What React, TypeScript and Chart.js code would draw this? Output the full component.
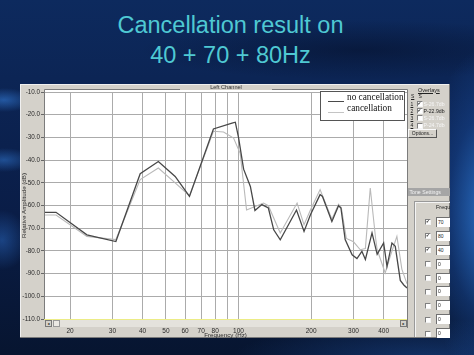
import React, { useEffect, useRef } from 'react';
import { Chart, registerables } from 'chart.js';

Chart.register(...registerables);

// ---------- data ----------
const titleLines = ['Cancellation result on', '40 + 70 + 80Hz'];
const seriesLabels = ['no cancellation', 'cancellation'];

const freqNoCancel = [15.6, 17.5, 23.5, 31.0, 39.1, 46.5, 54.6, 62.6, 78.7, 94, 97, 100, 105, 112, 117, 125, 133, 140, 149, 174, 187, 199, 218, 223, 244, 260, 266, 277, 296, 310, 325, 336, 358, 376, 400, 413, 433, 447, 469, 485, 500];
const ampNoCancel = [-63.0, -63.0, -72.9, -75.9, -46.0, -40.6, -47.2, -56.0, -26.3, -23.7, -23.3, -30.0, -44.0, -51.6, -62.2, -59.6, -61.1, -70.7, -75.1, -62.0, -71.4, -64.0, -55.2, -56.0, -67.0, -60.1, -61.1, -75.0, -81.7, -83.4, -80.2, -83.8, -72.1, -81.5, -76.5, -86.8, -76.5, -78.0, -93.0, -95.0, -96.3];

const freqCancel = [15.6, 17.5, 23.5, 31.0, 39.1, 46.5, 54.6, 62.6, 78.7, 86.7, 95.4, 101.6, 108, 127, 133, 149, 175, 187, 199, 218, 244, 260, 267, 280, 300, 320, 336, 352, 370, 376, 406, 426, 454, 476, 500];
const ampCancel = [-64.2, -64.2, -73.6, -75.0, -48.6, -43.5, -50.0, -55.7, -27.3, -27.6, -30.3, -37.0, -62.0, -58.9, -60.1, -72.1, -58.9, -68.5, -61.9, -53.0, -66.0, -59.5, -61.0, -74.5, -76.0, -79.5, -79.0, -52.3, -74.0, -79.5, -89.7, -82.4, -73.6, -88.0, -94.5];

const xTicks = [20, 30, 40, 50, 60, 70, 80, 90, 100, 200, 300, 400];
const xTickLabels = ['20', '30', '40', '50', '60', '70', '80', '', '100', '200', '300', '400'];
const xMin = 15.6;
const xMax = 500;
const yMin = -110;
const yMax = -10;
const yStep = 10;

const overlayRows = ['1', '2', '3', '4'];
const overlayTexts = ['S-26.7db', 'P-22.9db', 'S-26.7db', 'P-24.7db'];
const overlayChecked = [true, true, false, false];
const overlayEnabled = [false, true, false, false];
const toneFreqs = ['70', '80', '40', '0', '0', '0', '0', '0', '0'];
const toneChecked = [true, true, true, false, false, false, false, false, false];

const SANS = '"Liberation Sans", Arial, sans-serif';
const SERIF = '"Liberation Serif", "Times New Roman", serif';

const WX = 20;
const WY = 84;
const p = (x: number, y: number): React.CSSProperties => ({ position: 'absolute', left: x - WX, top: y - WY });

function Check({ x, y, on }: { x: number; y: number; on: boolean }) {
  return (
    <div style={{ ...p(x, y), width: 4, height: 4, background: '#fff', borderTop: '1px solid #808080', borderLeft: '1px solid #808080', borderRight: '1px solid #f4f4f4', borderBottom: '1px solid #f4f4f4', fontFamily: '"DejaVu Sans", sans-serif', fontSize: 4.5, lineHeight: '4px', color: '#111', textAlign: 'center', overflow: 'hidden' }}>
      {on ? '✔' : ''}
    </div>
  );
}

export default function App() {
  const canvasRef = useRef<HTMLCanvasElement>(null);

  useEffect(() => {
    const canvas = canvasRef.current!;
    const plotFrame = {
      id: 'plotFrame',
      beforeDraw(chart: any) {
        const { ctx, chartArea: a } = chart;
        ctx.save();
        ctx.fillStyle = '#ffffff';
        ctx.fillRect(a.left, a.top - 2, a.right - a.left, a.bottom - a.top + 2);
        ctx.restore();
      },
      afterDraw(chart: any) {
        const { ctx, chartArea: a } = chart;
        ctx.save();
        ctx.strokeStyle = '#7c7c7c';
        ctx.lineWidth = 1;
        ctx.beginPath();
        ctx.moveTo(Math.round(a.left) + 0.5, a.bottom);
        ctx.lineTo(Math.round(a.left) + 0.5, a.top - 2.5);
        ctx.lineTo(Math.round(a.right) + 0.5, a.top - 2.5);
        ctx.lineTo(Math.round(a.right) + 0.5, a.bottom + 9);
        ctx.stroke();
        ctx.restore();
      },
    };

    const chart = new Chart(canvas, {
      type: 'scatter',
      data: {
        datasets: [
          {
            label: seriesLabels[0],
            data: freqNoCancel.map((f, i) => ({ x: f, y: ampNoCancel[i] })),
            showLine: true,
            borderColor: '#474747',
            borderWidth: 1.3,
            pointRadius: 0,
            tension: 0,
          },
          {
            label: seriesLabels[1],
            data: freqCancel.map((f, i) => ({ x: f, y: ampCancel[i] })),
            showLine: true,
            borderColor: '#b9b9b9',
            borderWidth: 1.1,
            pointRadius: 0,
            tension: 0,
          },
        ],
      },
      options: {
        animation: false,
        responsive: false,
        layout: { padding: { top: 7, right: 1, left: 0, bottom: 0 } },
        plugins: { legend: { display: false }, tooltip: { enabled: false } },
        scales: {
          x: {
            type: 'logarithmic',
            min: xMin,
            max: xMax,
            afterBuildTicks: (s: any) => {
              s.ticks = xTicks.map((v) => ({ value: v }));
            },
            afterFit: (s: any) => {
              s.height = 19;
            },
            ticks: {
              autoSkip: false,
              maxRotation: 0,
              padding: 8,
              color: '#2a2a2a',
              font: { family: SANS, size: 6.5 },
              callback: (_v: any, i: number) => xTickLabels[i],
            },
            grid: { color: '#ababab', lineWidth: 1, drawTicks: false },
            border: { display: false },
            title: {
              display: true,
              text: 'Frequency (Hz)',
              color: '#2a2a2a',
              font: { family: SANS, size: 6.2 },
              padding: { top: 0, bottom: -1 },
            },
          },
          y: {
            type: 'linear',
            min: yMin,
            max: yMax,
            afterFit: (s: any) => {
              s.width = 24;
            },
            ticks: {
              stepSize: yStep,
              padding: 1,
              color: '#2a2a2a',
              font: { family: SANS, size: 6.3 },
              callback: (v: any) => Number(v).toFixed(1),
            },
            grid: {
              color: (ctx: any) => (ctx.tick && ctx.tick.value === yMin ? '#ecec86' : '#ababab'),
              tickColor: '#666666',
              tickLength: 3,
              lineWidth: 1,
            },
            border: { display: false },
            title: {
              display: true,
              text: 'Relative Amplitude (dB)',
              color: '#2a2a2a',
              font: { family: SANS, size: 6.2 },
              padding: { top: 1, bottom: 0 },
            },
          },
        },
      },
      plugins: [plotFrame],
    } as any);

    return () => chart.destroy();
  }, []);

  const bg = [
    'radial-gradient(ellipse 70px 170px at 490px 215px, rgba(45,120,210,0.95), rgba(30,90,180,0.35) 60%, transparent 100%)',
    'radial-gradient(ellipse 30px 12px at 4px 100px, rgba(45,110,195,0.7), transparent 100%)',
    'radial-gradient(ellipse 30px 12px at 4px 160px, rgba(45,110,195,0.6), transparent 100%)',
    'radial-gradient(ellipse 26px 30px at 2px 240px, rgba(40,100,185,0.55), transparent 100%)',
    'radial-gradient(ellipse 220px 30px at 360px 50px, rgba(5,15,40,0.55), transparent 100%)',
    'radial-gradient(ellipse 200px 40px at 430px 360px, rgba(30,80,160,0.5), transparent 100%)',
    'linear-gradient(180deg, #0d2a5e 0%, #0c2555 22%, #0a1d47 60%, #071530 100%)',
  ].join(', ');

  return (
    <div style={{ position: 'absolute', left: 0, top: 0, width: 474, height: 355, overflow: 'hidden', background: bg }}>
      {/* Title */}
      <div style={{ position: 'absolute', left: 0, top: 10, width: 461, textAlign: 'center', fontFamily: SANS, fontSize: 23.5, lineHeight: '30px', color: '#4fc9d3', whiteSpace: 'nowrap' }}>
        <div>{titleLines[0]}</div>
        <div>{titleLines[1]}</div>
      </div>

      {/* Window */}
      <div style={{ position: 'absolute', left: WX, top: WY, width: 430, height: 254, background: '#d4d1ca', overflow: 'hidden', boxShadow: 'inset -1px -1px 0 #7a7a7a, inset 1px 1px 0 #f0f0f0' }}>
        <canvas ref={canvasRef} width={388} height={253} style={{ ...p(20, 85), width: 388, height: 253, display: 'block' }} />

        <div style={{ ...p(180, 84.5), width: 92, height: 5, textAlign: 'center', fontFamily: SANS, fontSize: 5.6, lineHeight: '5px', color: '#333', background: '#d4d1ca' }}>Left Channel</div>

        {/* scroll strip */}
        <div style={{ ...p(44.5, 319.5), width: 362, height: 7, background: '#e4e2dc' }} />
        <div style={{ ...p(45, 320), width: 5, height: 5, background: '#d4d1ca', border: '1px solid #777', fontSize: 4, lineHeight: '5px', textAlign: 'center', color: '#111', fontFamily: '"DejaVu Sans", sans-serif' }}>◂</div>
        <div style={{ ...p(53, 320), width: 5, height: 5, background: '#ebe9e4', border: '1px solid #999' }} />
        <div style={{ ...p(400, 320), width: 5, height: 5, background: '#d4d1ca', border: '1px solid #777', fontSize: 4, lineHeight: '5px', textAlign: 'center', color: '#111', fontFamily: '"DejaVu Sans", sans-serif' }}>▸</div>

        {/* Legend */}
        <div style={{ ...p(320, 91), width: 85, height: 30, background: '#fff', border: '1px solid #555', boxSizing: 'border-box' }} />
        <div style={{ ...p(327.5, 100.5), width: 16, height: 1.5, background: '#4a4a4a' }} />
        <div style={{ ...p(327.5, 111.5), width: 16, height: 1, background: '#c4c4c4' }} />
        <div style={{ ...p(347, 91.5), fontFamily: SERIF, fontSize: 9.3, lineHeight: '10px', color: '#111', whiteSpace: 'nowrap' }}>{seriesLabels[0]}</div>
        <div style={{ ...p(347, 103), fontFamily: SERIF, fontSize: 9.3, lineHeight: '10px', color: '#111', whiteSpace: 'nowrap' }}>{seriesLabels[1]}</div>

        {/* Right panel: overlays */}
        <div style={{ ...p(418, 86.5), fontFamily: SANS, fontSize: 5.5, lineHeight: '6px', color: '#222', textDecoration: 'underline' }}>Overlays</div>
        <div style={{ ...p(411, 92.5), fontFamily: SANS, fontSize: 5, lineHeight: '6px', color: '#222', textDecoration: 'underline' }}>S</div>
        <div style={{ ...p(418.5, 92.5), fontFamily: SANS, fontSize: 5, lineHeight: '6px', color: '#222' }}>S</div>
        {overlayRows.map((r, i) => (
          <React.Fragment key={r}>
            <div style={{ ...p(410.5, 100.5 + i * 7.2), fontFamily: SANS, fontSize: 5, lineHeight: '6px', color: '#222', textDecoration: 'underline' }}>{r}</div>
            <Check x={416.5} y={101 + i * 7.2} on={overlayChecked[i]} />
            <div style={{ ...p(423.5, 100.5 + i * 7.2), fontFamily: SANS, fontSize: 5.2, lineHeight: '6px', color: overlayEnabled[i] ? '#222' : '#f6f6f6', whiteSpace: 'nowrap' }}>{overlayTexts[i]}</div>
          </React.Fragment>
        ))}
        <div style={{ ...p(408, 128.5), width: 27, height: 7, background: '#d4d1ca', borderTop: '1px solid #fafafa', borderLeft: '1px solid #fafafa', borderRight: '1px solid #555', borderBottom: '1px solid #555', fontFamily: SANS, fontSize: 5, lineHeight: '7px', color: '#222', textAlign: 'center' }}>Options...</div>

        {/* Tone settings */}
        <div style={{ ...p(407.5, 187.5), width: 43, height: 8, background: '#a5a5a5', fontFamily: SANS, fontSize: 5.2, lineHeight: '8px', color: '#f4f4f4', paddingLeft: 2, whiteSpace: 'nowrap' }}>Tone Settings</div>
        <div style={{ ...p(413.5, 201), width: 40, height: 135, borderTop: '1px solid #999', borderLeft: '1px solid #999', boxShadow: 'inset 1px 1px 0 #f4f4f4' }} />
        <div style={{ ...p(436, 203.5), fontFamily: SANS, fontSize: 5.5, lineHeight: '6px', color: '#222' }}>Frequ</div>
        {toneFreqs.map((f, i) => (
          <React.Fragment key={i}>
            <Check x={425} y={219.2 + i * 13.95} on={toneChecked[i]} />
            <div style={{ ...p(436, 216.7 + i * 13.95), width: 18, height: 9, background: '#fff', borderTop: '1px solid #707070', borderLeft: '1px solid #707070', fontFamily: SANS, fontSize: 5, lineHeight: '9px', color: '#222', paddingLeft: 1 }}>{f}</div>
          </React.Fragment>
        ))}
      </div>
    </div>
  );
}
